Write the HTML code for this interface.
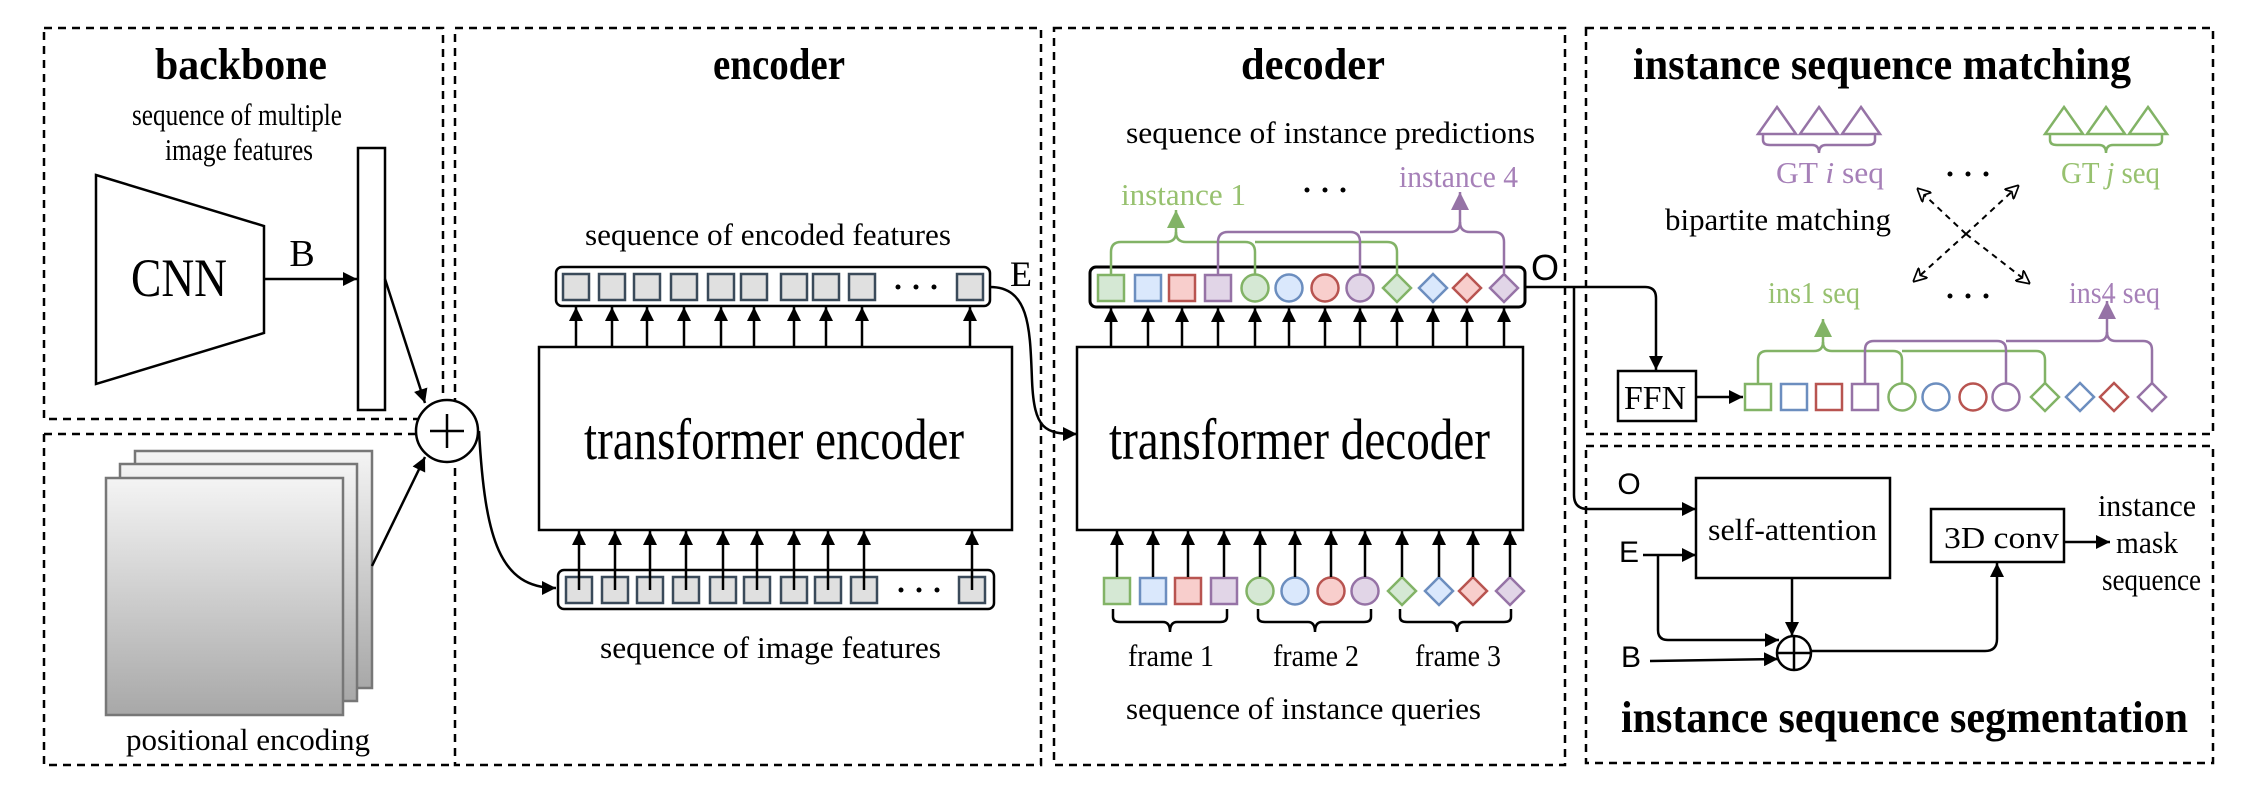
<!DOCTYPE html>
<html><head><meta charset="utf-8"><style>
html,body{margin:0;padding:0;background:#fff;}
svg{display:block;}
</style></head><body>
<svg width="2250" height="800" viewBox="0 0 2250 800" xmlns="http://www.w3.org/2000/svg" font-family="Liberation Serif, serif">
<defs>
<marker id="a" viewBox="0 0 10 10" refX="10" refY="5" markerWidth="14" markerHeight="14" markerUnits="userSpaceOnUse" orient="auto"><path d="M0,0L10,5L0,10z" fill="#000"/></marker>
<marker id="ag" viewBox="0 0 10 10" refX="10" refY="5" markerWidth="18" markerHeight="18" markerUnits="userSpaceOnUse" orient="auto"><path d="M0,0L10,5L0,10z" fill="#82b366"/></marker>
<marker id="ap" viewBox="0 0 10 10" refX="10" refY="5" markerWidth="18" markerHeight="18" markerUnits="userSpaceOnUse" orient="auto"><path d="M0,0L10,5L0,10z" fill="#9673a6"/></marker>
<marker id="ao" viewBox="0 0 10 10" refX="9" refY="5" markerWidth="14" markerHeight="14" markerUnits="userSpaceOnUse" orient="auto"><path d="M0,0L10,5L0,10L3,5z" fill="#fff" stroke="#000" stroke-width="1.2"/></marker>
<linearGradient id="pg" x1="0" y1="0" x2="0" y2="1"><stop offset="0" stop-color="#f4f4f4"/><stop offset="1" stop-color="#a8a8a8"/></linearGradient>
</defs>

<g fill="none" stroke="#000" stroke-width="2.5" stroke-dasharray="8,6">
<rect x="44" y="28" width="399" height="391"/>
<path d="M44,434 H419 M44,434 V765 H455"/>
<rect x="455" y="28" width="586" height="737"/>
<rect x="1054" y="28" width="511" height="737"/>
<rect x="1586" y="28" width="627" height="406"/>
<rect x="1586" y="446" width="627" height="317"/>
</g>

<g font-weight="bold" font-size="44" lengthAdjust="spacingAndGlyphs">
<text x="155" y="79" textLength="172" lengthAdjust="spacingAndGlyphs">backbone</text>
<text x="713" y="79" textLength="132" lengthAdjust="spacingAndGlyphs">encoder</text>
<text x="1241" y="79" textLength="144" lengthAdjust="spacingAndGlyphs">decoder</text>
<text x="1633" y="79" textLength="498" lengthAdjust="spacingAndGlyphs">instance sequence matching</text>
<text x="1621" y="732" textLength="567" lengthAdjust="spacingAndGlyphs">instance sequence segmentation</text>
</g>

<g font-size="31">
<text x="132" y="125" textLength="210" lengthAdjust="spacingAndGlyphs">sequence of multiple</text>
<text x="165" y="160" textLength="148" lengthAdjust="spacingAndGlyphs">image features</text>
<text x="126" y="750" textLength="244" lengthAdjust="spacingAndGlyphs">positional encoding</text>
</g>
<path d="M96,175 L264,226 L264,333 L96,384 Z" fill="#fff" stroke="#000" stroke-width="2.5"/>
<text x="131" y="296" font-size="54" textLength="96" lengthAdjust="spacingAndGlyphs">CNN</text>
<line x1="264" y1="279" x2="357" y2="279" stroke="#000" stroke-width="2.5" marker-end="url(#a)"/>
<text x="302" y="266" font-size="38" text-anchor="middle">B</text>
<rect x="358" y="148" width="27" height="262" fill="#fff" stroke="#000" stroke-width="2.5"/>
<line x1="385" y1="279" x2="425" y2="403" stroke="#000" stroke-width="2.5" marker-end="url(#a)"/>
<rect x="135" y="451" width="237" height="237" fill="url(#pg)" stroke="#777" stroke-width="2.5"/>
<rect x="120" y="464" width="237" height="237" fill="url(#pg)" stroke="#777" stroke-width="2.5"/>
<rect x="106" y="478" width="237" height="237" fill="url(#pg)" stroke="#777" stroke-width="2.5"/>
<line x1="372" y1="566" x2="425" y2="457" stroke="#000" stroke-width="2.5" marker-end="url(#a)"/>
<circle cx="447" cy="431" r="31" fill="#fff" stroke="#000" stroke-width="2.5"/>
<path d="M430,431H464M447,414V448" stroke="#000" stroke-width="2.5"/>
<path d="M479,431 C485,540 500,588 556,588" fill="none" stroke="#000" stroke-width="2.5" marker-end="url(#a)"/>

<g font-size="31">
<text x="585" y="245" textLength="366" lengthAdjust="spacingAndGlyphs">sequence of encoded features</text>
<text x="600" y="658" textLength="341" lengthAdjust="spacingAndGlyphs">sequence of image features</text>
</g>
<rect x="556" y="267" width="434" height="39" rx="6" fill="#fff" stroke="#000" stroke-width="2.5"/>
<rect x="558" y="570" width="436" height="39" rx="6" fill="#fff" stroke="#000" stroke-width="2.5"/>
<g fill="#e0e0e0" stroke="#3a4a5a" stroke-width="2.5">
<rect x="563" y="274" width="26" height="26"/><rect x="599" y="274" width="26" height="26"/><rect x="634" y="274" width="26" height="26"/><rect x="671" y="274" width="26" height="26"/><rect x="708" y="274" width="26" height="26"/><rect x="741" y="274" width="26" height="26"/><rect x="781" y="274" width="26" height="26"/><rect x="813" y="274" width="26" height="26"/><rect x="849" y="274" width="26" height="26"/><rect x="957" y="274" width="26" height="26"/>
<rect x="566" y="577" width="26" height="26"/><rect x="602" y="577" width="26" height="26"/><rect x="637" y="577" width="26" height="26"/><rect x="673" y="577" width="26" height="26"/><rect x="710" y="577" width="26" height="26"/><rect x="744" y="577" width="26" height="26"/><rect x="781" y="577" width="26" height="26"/><rect x="815" y="577" width="26" height="26"/><rect x="851" y="577" width="26" height="26"/><rect x="959" y="577" width="26" height="26"/>
</g>
<g fill="#000"><circle cx="898" cy="287" r="2.5"/><circle cx="916" cy="287" r="2.5"/><circle cx="934" cy="287" r="2.5"/><circle cx="901" cy="590" r="2.5"/><circle cx="919" cy="590" r="2.5"/><circle cx="937" cy="590" r="2.5"/></g>
<rect x="539" y="347" width="473" height="183" fill="#fff" stroke="#000" stroke-width="2.5"/>
<text x="584" y="459" font-size="58" textLength="380" lengthAdjust="spacingAndGlyphs">transformer encoder</text>
<g stroke="#000" stroke-width="2.5" marker-end="url(#a)">
<line x1="576" y1="347" x2="576" y2="307"/><line x1="612" y1="347" x2="612" y2="307"/><line x1="647" y1="347" x2="647" y2="307"/><line x1="684" y1="347" x2="684" y2="307"/><line x1="721" y1="347" x2="721" y2="307"/><line x1="754" y1="347" x2="754" y2="307"/><line x1="794" y1="347" x2="794" y2="307"/><line x1="826" y1="347" x2="826" y2="307"/><line x1="862" y1="347" x2="862" y2="307"/><line x1="970" y1="347" x2="970" y2="307"/>
<line x1="579" y1="590" x2="579" y2="531"/><line x1="615" y1="590" x2="615" y2="531"/><line x1="650" y1="590" x2="650" y2="531"/><line x1="686" y1="590" x2="686" y2="531"/><line x1="723" y1="590" x2="723" y2="531"/><line x1="757" y1="590" x2="757" y2="531"/><line x1="794" y1="590" x2="794" y2="531"/><line x1="828" y1="590" x2="828" y2="531"/><line x1="864" y1="590" x2="864" y2="531"/><line x1="972" y1="590" x2="972" y2="531"/>
</g>
<text x="1021" y="286" font-size="36" text-anchor="middle">E</text>
<path d="M990,287 C1030,287 1030,330 1032,380 C1034,430 1045,434 1077,434" fill="none" stroke="#000" stroke-width="2.5" marker-end="url(#a)"/>

<g font-size="31">
<text x="1126" y="143" textLength="409" lengthAdjust="spacingAndGlyphs">sequence of instance predictions</text>
<text x="1121" y="205" fill="#97c16f" textLength="125" lengthAdjust="spacingAndGlyphs">instance 1</text>
<text x="1399" y="187" fill="#a680b8" textLength="119" lengthAdjust="spacingAndGlyphs">instance 4</text>
<text x="1126" y="719" textLength="355" lengthAdjust="spacingAndGlyphs">sequence of instance queries</text>
<text x="1128" y="666" textLength="86" lengthAdjust="spacingAndGlyphs">frame 1</text>
<text x="1273" y="666" textLength="86" lengthAdjust="spacingAndGlyphs">frame 2</text>
<text x="1415" y="666" textLength="86" lengthAdjust="spacingAndGlyphs">frame 3</text>
</g>
<g fill="#000"><circle cx="1307" cy="190" r="2.5"/><circle cx="1325" cy="190" r="2.5"/><circle cx="1343" cy="190" r="2.5"/></g>
<rect x="1090" y="267" width="435" height="40" rx="6" fill="#fff" stroke="#000" stroke-width="3"/>
<path d="M1111,274 V252 Q1111,242 1121,242 H1166 Q1176,242 1176,232 M1176,232 Q1176,242 1186,242 H1245 Q1255,242 1255,252 V274 M1255,242 H1387 Q1397,242 1397,252 V273" fill="none" stroke="#82b366" stroke-width="2.5"/>
<line x1="1176" y1="236" x2="1176" y2="210" stroke="#82b366" stroke-width="2.5" marker-end="url(#ag)"/>
<path d="M1218,274 V242 Q1218,232 1228,232 H1350 Q1360,232 1360,242 V274 M1360,232 H1450 Q1460,232 1460,222 Q1460,232 1470,232 H1494 Q1504,232 1504,242 V273" fill="none" stroke="#9673a6" stroke-width="2.5"/>
<line x1="1460" y1="226" x2="1460" y2="192" stroke="#9673a6" stroke-width="2.5" marker-end="url(#ap)"/>
<g stroke-width="2.5">
<rect x="1098" y="275" width="26" height="26" fill="#d5e8d4" stroke="#82b366"/>
<rect x="1135" y="275" width="26" height="26" fill="#dae8fc" stroke="#6c8ebf"/>
<rect x="1169" y="275" width="26" height="26" fill="#f8cecc" stroke="#b85450"/>
<rect x="1205" y="275" width="26" height="26" fill="#e1d5e7" stroke="#9673a6"/>
<circle cx="1255" cy="288" r="13.5" fill="#d5e8d4" stroke="#82b366"/>
<circle cx="1289" cy="288" r="13.5" fill="#dae8fc" stroke="#6c8ebf"/>
<circle cx="1325" cy="288" r="13.5" fill="#f8cecc" stroke="#b85450"/>
<circle cx="1360" cy="288" r="13.5" fill="#e1d5e7" stroke="#9673a6"/>
<path d="M1397,274 L1411,288 L1397,302 L1383,288Z" fill="#d5e8d4" stroke="#82b366"/>
<path d="M1433,274 L1447,288 L1433,302 L1419,288Z" fill="#dae8fc" stroke="#6c8ebf"/>
<path d="M1467,274 L1481,288 L1467,302 L1453,288Z" fill="#f8cecc" stroke="#b85450"/>
<path d="M1504,274 L1518,288 L1504,302 L1490,288Z" fill="#e1d5e7" stroke="#9673a6"/>
<rect x="1104" y="578" width="26" height="26" fill="#d5e8d4" stroke="#82b366"/>
<rect x="1140" y="578" width="26" height="26" fill="#dae8fc" stroke="#6c8ebf"/>
<rect x="1175" y="578" width="26" height="26" fill="#f8cecc" stroke="#b85450"/>
<rect x="1211" y="578" width="26" height="26" fill="#e1d5e7" stroke="#9673a6"/>
<circle cx="1260" cy="591" r="13.5" fill="#d5e8d4" stroke="#82b366"/>
<circle cx="1295" cy="591" r="13.5" fill="#dae8fc" stroke="#6c8ebf"/>
<circle cx="1331" cy="591" r="13.5" fill="#f8cecc" stroke="#b85450"/>
<circle cx="1365" cy="591" r="13.5" fill="#e1d5e7" stroke="#9673a6"/>
<path d="M1402,577 L1416,591 L1402,605 L1388,591Z" fill="#d5e8d4" stroke="#82b366"/>
<path d="M1439,577 L1453,591 L1439,605 L1425,591Z" fill="#dae8fc" stroke="#6c8ebf"/>
<path d="M1473,577 L1487,591 L1473,605 L1459,591Z" fill="#f8cecc" stroke="#b85450"/>
<path d="M1510,577 L1524,591 L1510,605 L1496,591Z" fill="#e1d5e7" stroke="#9673a6"/>
</g>
<rect x="1077" y="347" width="446" height="183" fill="#fff" stroke="#000" stroke-width="2.5"/>
<text x="1109" y="459" font-size="58" textLength="381" lengthAdjust="spacingAndGlyphs">transformer decoder</text>
<g stroke="#000" stroke-width="2.5" marker-end="url(#a)">
<line x1="1111" y1="347" x2="1111" y2="308"/><line x1="1148" y1="347" x2="1148" y2="308"/><line x1="1182" y1="347" x2="1182" y2="308"/><line x1="1218" y1="347" x2="1218" y2="308"/><line x1="1255" y1="347" x2="1255" y2="308"/><line x1="1289" y1="347" x2="1289" y2="308"/><line x1="1325" y1="347" x2="1325" y2="308"/><line x1="1360" y1="347" x2="1360" y2="308"/><line x1="1397" y1="347" x2="1397" y2="308"/><line x1="1433" y1="347" x2="1433" y2="308"/><line x1="1467" y1="347" x2="1467" y2="308"/><line x1="1504" y1="347" x2="1504" y2="308"/>
<line x1="1117" y1="577" x2="1117" y2="531"/><line x1="1153" y1="577" x2="1153" y2="531"/><line x1="1188" y1="577" x2="1188" y2="531"/><line x1="1224" y1="577" x2="1224" y2="531"/><line x1="1260" y1="577" x2="1260" y2="531"/><line x1="1295" y1="577" x2="1295" y2="531"/><line x1="1331" y1="577" x2="1331" y2="531"/><line x1="1365" y1="577" x2="1365" y2="531"/><line x1="1402" y1="577" x2="1402" y2="531"/><line x1="1439" y1="577" x2="1439" y2="531"/><line x1="1473" y1="577" x2="1473" y2="531"/><line x1="1510" y1="577" x2="1510" y2="531"/>
</g>
<g fill="none" stroke="#000" stroke-width="2.5">
<path d="M1113,609 V617 Q1113,622 1120,622 H1163 Q1170,622 1170,632 Q1170,622 1177,622 H1220 Q1227,622 1227,617 V609"/>
<path d="M1258,609 V617 Q1258,622 1265,622 H1308 Q1315,622 1315,632 Q1315,622 1322,622 H1364 Q1371,622 1371,617 V609"/>
<path d="M1400,609 V617 Q1400,622 1407,622 H1450 Q1457,622 1457,632 Q1457,622 1464,622 H1504 Q1511,622 1511,617 V609"/>
</g>
<text x="1545" y="280" font-size="36" text-anchor="middle" style="font-family:'Liberation Sans',sans-serif">O</text>
<path d="M1524,287 H1645 Q1656,287 1656,298 V370" fill="none" stroke="#000" stroke-width="2.5" marker-end="url(#a)"/>
<path d="M1574,287 V495 Q1574,509 1588,509 H1696" fill="none" stroke="#000" stroke-width="2.5" marker-end="url(#a)"/>

<rect x="1618" y="371" width="78" height="50" fill="#fff" stroke="#000" stroke-width="2.5"/>
<text x="1624" y="409" font-size="34" textLength="62" lengthAdjust="spacingAndGlyphs">FFN</text>
<line x1="1696" y1="397" x2="1743" y2="397" stroke="#000" stroke-width="2.5" marker-end="url(#a)"/>
<path d="M1758,384 V360 Q1758,351 1767,351 H1814 Q1823,351 1823,342 Q1823,351 1832,351 H1893 Q1902,351 1902,360 V383 M1902,351 H2036 Q2045,351 2045,360 V383" fill="none" stroke="#82b366" stroke-width="2.5"/>
<line x1="1823" y1="344" x2="1823" y2="319" stroke="#82b366" stroke-width="2.5" marker-end="url(#ag)"/>
<path d="M1865,384 V350 Q1865,341 1874,341 H1997 Q2006,341 2006,350 V383 M2006,341 H2098 Q2107,341 2107,332 Q2107,341 2116,341 H2143 Q2152,341 2152,350 V383" fill="none" stroke="#9673a6" stroke-width="2.5"/>
<line x1="2107" y1="334" x2="2107" y2="301" stroke="#9673a6" stroke-width="2.5" marker-end="url(#ap)"/>
<g stroke-width="2.5" fill="#fff">
<rect x="1745" y="384" width="26" height="26" stroke="#82b366"/>
<rect x="1781" y="384" width="26" height="26" stroke="#6c8ebf"/>
<rect x="1816" y="384" width="26" height="26" stroke="#b85450"/>
<rect x="1852" y="384" width="26" height="26" stroke="#9673a6"/>
<circle cx="1902" cy="397" r="13.5" stroke="#82b366"/>
<circle cx="1936" cy="397" r="13.5" stroke="#6c8ebf"/>
<circle cx="1973" cy="397" r="13.5" stroke="#b85450"/>
<circle cx="2006" cy="397" r="13.5" stroke="#9673a6"/>
<path d="M2045,383 L2059,397 L2045,411 L2031,397Z" stroke="#82b366"/>
<path d="M2080,383 L2094,397 L2080,411 L2066,397Z" stroke="#6c8ebf"/>
<path d="M2114,383 L2128,397 L2114,411 L2100,397Z" stroke="#b85450"/>
<path d="M2152,383 L2166,397 L2152,411 L2138,397Z" stroke="#9673a6"/>
<g stroke="#9673a6"><path d="M1777,107 L1796,134 L1758,134Z"/><path d="M1819,107 L1838,134 L1800,134Z"/><path d="M1861,107 L1880,134 L1842,134Z"/></g>
<g stroke="#82b366"><path d="M2064,107 L2083,134 L2045,134Z"/><path d="M2106,107 L2125,134 L2087,134Z"/><path d="M2148,107 L2167,134 L2129,134Z"/></g>
</g>
<g fill="none" stroke-width="2.5">
<path d="M1763,135 V140 Q1763,145 1770,145 H1812 Q1819,145 1819,153 Q1819,145 1826,145 H1868 Q1875,145 1875,140 V135" stroke="#9673a6"/>
<path d="M2050,135 V140 Q2050,145 2057,145 H2099 Q2106,145 2106,153 Q2106,145 2113,145 H2155 Q2162,145 2162,140 V135" stroke="#82b366"/>
</g>
<g font-size="31">
<text x="1776" y="183" fill="#a680b8" textLength="108" lengthAdjust="spacingAndGlyphs">GT <tspan font-style="italic">i</tspan>  seq</text>
<text x="2061" y="183" fill="#97c16f" textLength="99" lengthAdjust="spacingAndGlyphs">GT <tspan font-style="italic">j</tspan> seq</text>
<text x="1665" y="230" textLength="226" lengthAdjust="spacingAndGlyphs">bipartite matching</text>
<text x="1768" y="303" fill="#97c16f" textLength="92" lengthAdjust="spacingAndGlyphs">ins1 seq</text>
<text x="2069" y="303" fill="#a680b8" textLength="91" lengthAdjust="spacingAndGlyphs">ins4 seq</text>
</g>
<g fill="#000"><circle cx="1950" cy="174" r="2.5"/><circle cx="1968" cy="174" r="2.5"/><circle cx="1986" cy="174" r="2.5"/><circle cx="1950" cy="296" r="2.5"/><circle cx="1968" cy="296" r="2.5"/><circle cx="1986" cy="296" r="2.5"/></g>
<g stroke="#000" stroke-width="2" stroke-dasharray="6,5" fill="none">
<line x1="1966" y1="234" x2="1918" y2="189" marker-end="url(#ao)"/>
<line x1="1966" y1="234" x2="2029" y2="283" marker-end="url(#ao)"/>
<line x1="1966" y1="234" x2="2018" y2="186" marker-end="url(#ao)"/>
<line x1="1966" y1="234" x2="1914" y2="281" marker-end="url(#ao)"/>
</g>

<g font-size="30" text-anchor="middle" style="font-family:'Liberation Sans',sans-serif">
<text x="1629" y="494">O</text>
<text x="1629" y="562">E</text>
<text x="1631" y="667">B</text>
</g>
<rect x="1696" y="478" width="194" height="100" fill="#fff" stroke="#000" stroke-width="2.5"/>
<text x="1708" y="540" font-size="31" textLength="169" lengthAdjust="spacingAndGlyphs">self-attention</text>
<line x1="1643" y1="555" x2="1696" y2="555" stroke="#000" stroke-width="2.5" marker-end="url(#a)"/>
<path d="M1658,555 V630 Q1658,640 1668,640 H1779" fill="none" stroke="#000" stroke-width="2.5" marker-end="url(#a)"/>
<line x1="1650" y1="661" x2="1778" y2="659" stroke="#000" stroke-width="2.5" marker-end="url(#a)"/>
<line x1="1792" y1="578" x2="1792" y2="636" stroke="#000" stroke-width="2.5" marker-end="url(#a)"/>
<circle cx="1794" cy="653" r="17" fill="#fff" stroke="#000" stroke-width="2.5"/>
<path d="M1777,653H1811M1794,636V670" stroke="#000" stroke-width="2.5"/>
<path d="M1811,651 H1985 Q1997,651 1997,639 V563" fill="none" stroke="#000" stroke-width="2.5" marker-end="url(#a)"/>
<rect x="1931" y="509" width="133" height="53" fill="#fff" stroke="#000" stroke-width="2.5"/>
<text x="1944" y="548" font-size="31" textLength="115" lengthAdjust="spacingAndGlyphs">3D conv</text>
<line x1="2064" y1="542" x2="2110" y2="542" stroke="#000" stroke-width="2.5" marker-end="url(#a)"/>
<g font-size="31">
<text x="2098" y="516" textLength="98" lengthAdjust="spacingAndGlyphs">instance</text>
<text x="2116" y="553" textLength="62" lengthAdjust="spacingAndGlyphs">mask</text>
<text x="2102" y="590" textLength="99" lengthAdjust="spacingAndGlyphs">sequence</text>
</g>
</svg>
</body></html>
